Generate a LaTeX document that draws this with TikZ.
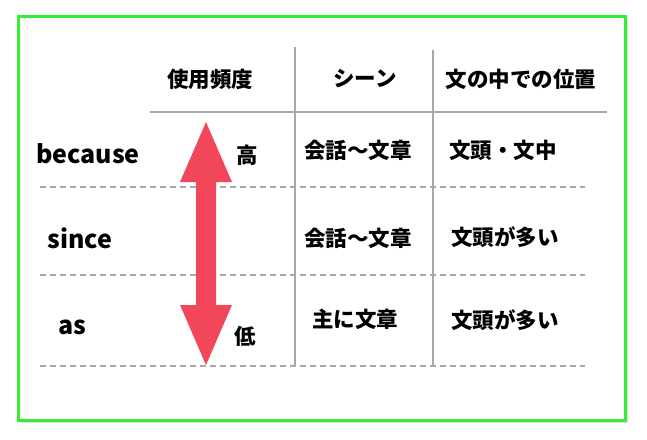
\documentclass[tikz,border=0pt]{standalone}
\usepackage{fontspec}
\setmainfont{Noto Sans CJK JP}
\definecolor{frame}{HTML}{33EE33}
\definecolor{arr}{HTML}{F2475A}
\definecolor{ln}{HTML}{A8A8A8}
\begin{document}
\begin{tikzpicture}[x=1pt,y=-1pt,
  en/.style={font=\fontsize{25}{25}\selectfont\bfseries},
  jp/.style={font=\fontsize{21.5}{21.5}\selectfont\bfseries},
  sol/.style={ln,line width=2.5pt},
  dsh/.style={ln,line width=2pt,dash pattern=on 6pt off 4pt}]
\useasboundingbox (0,0) rectangle (647,439);
\fill[gray!25] (21,19) rectangle (628,423);
\fill[white] (18,16) rectangle (625,420);
\draw[frame,line width=3pt] (18,16) rectangle (625,420);
% lines
\coordinate (h1) at (150,112); \coordinate (h2) at (607,112);
\draw[sol] (h1) -- (h2);
\coordinate (v1a) at (295,47); \coordinate (v1b) at (295,365);
\coordinate (v2a) at (433,50); \coordinate (v2b) at (433,365);
\draw[sol] (v1a) -- (v1b);
\draw[sol] (v2a) -- (v2b);
\foreach \y/\n in {187/d1,275/d2,366/d3}{
  \coordinate (\n a) at (40,\y); \coordinate (\n b) at (585,\y);
  \draw[dsh] (\n a) -- (\n b);}
% arrow
\fill[arr] (206,122) -- (232,182) -- (216,182) -- (216,305) -- (232,305) -- (206,365)
  -- (180,305) -- (196,305) -- (196,182) -- (180,182) -- cycle;
% header
\node[jp] (t1) at (210,79) {使用頻度};
\node[jp] (t2) at (365,79) {シーン};
\node[jp] (t3) at (521,79) {文の中での位置};
% rows
\node[en] (r1) at (88,154) {because};
\node[en] (r2) at (80,238) {since};
\node[en] (r3) at (72,327) {as};
\node[jp] (hi) at (247,155) {高};
\node[jp] (lo) at (245,336) {低};
\node[jp] (c1) at (358,150) {会話〜文章};
\node[jp] (c2) at (358,238) {会話〜文章};
\node[jp] (c3) at (355,319) {主に文章};
\node[jp] (p1) at (503,150) {文頭・文中};
\node[jp] (p2) at (505,237) {文頭が多い};
\node[jp] (p3) at (505,320) {文頭が多い};
\end{tikzpicture}
\end{document}
